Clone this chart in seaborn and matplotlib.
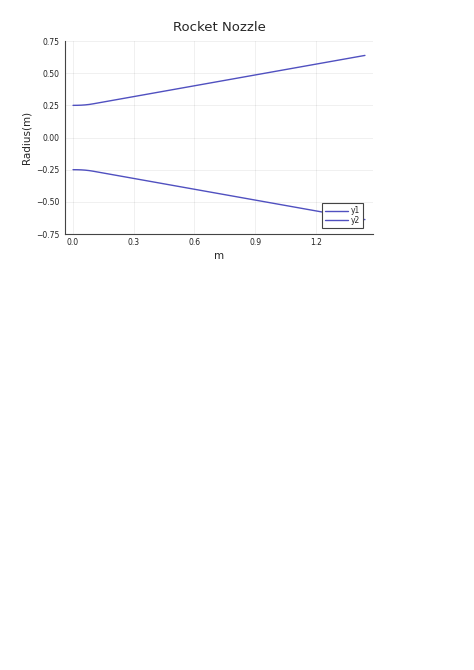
import numpy as np
import pandas as pd
import matplotlib
matplotlib.use('Agg')
import matplotlib.pyplot as plt
import seaborn as sns

# nozzle contour (axial position, radius)
x_pos = [0.0, 0.02, 0.04, 0.06, 0.08, 0.10, 0.3, 0.6, 0.9, 1.2, 1.443]
r_upper = [0.250, 0.2503, 0.2513, 0.2535, 0.257, 0.262, 0.318, 0.402, 0.486, 0.570, 0.638]
r_lower = [-0.250, -0.2503, -0.2513, -0.2535, -0.257, -0.262, -0.318, -0.402, -0.486, -0.570, -0.638]
series_names = ['y1', 'y2']
x_ticks = [0.0, 0.3, 0.6, 0.9, 1.2]
y_ticks = [-0.75, -0.50, -0.25, 0.00, 0.25, 0.50, 0.75]

df = pd.DataFrame({
    'x': x_pos + x_pos,
    'r': r_upper + r_lower,
    'series': [series_names[0]] * len(x_pos) + [series_names[1]] * len(x_pos),
})

sns.set_style('white')
plt.rcParams['font.family'] = ['DejaVu Sans']

fig = plt.figure(figsize=(4.74, 6.70), dpi=100)
ax = fig.add_axes([0.137, 0.6507, 0.650, 0.2881])

line_col = '#5050c0'
sns.lineplot(data=df, x='x', y='r', hue='series', palette=[line_col, line_col],
             sort=False, estimator=None, linewidth=1.0, ax=ax)

ax.set_xlim(-0.04, 1.483)
ax.set_ylim(-0.75, 0.75)
ax.set_xticks(x_ticks)
ax.set_xticklabels(['%.1f' % v for v in x_ticks])
ax.set_yticks(y_ticks)
ax.set_yticklabels(['%.2f' % v if v >= 0 else '\u2212%.2f' % -v for v in y_ticks])
ax.grid(True, color='#000000', alpha=0.07, linewidth=0.6)

for s in ['top', 'right']:
    ax.spines[s].set_visible(False)
for s in ['left', 'bottom']:
    ax.spines[s].set_color('#444444')
    ax.spines[s].set_linewidth(0.8)

ax.tick_params(axis='x', direction='in', length=2.5, width=0.6, labelsize=5.5, pad=3, colors='#222222')
ax.tick_params(axis='y', direction='out', length=2.0, width=0.6, labelsize=5.5, pad=2, colors='#222222')

ax.set_xlabel('m', fontsize=7.5, labelpad=3)
ax.set_ylabel('Radius(m)', fontsize=7.5, labelpad=3)
ax.set_title('Rocket Nozzle', fontsize=9.5, pad=7)

leg = ax.legend(loc='lower right', bbox_to_anchor=(0.968, 0.03), fontsize=5.5,
                frameon=True, fancybox=False, handlelength=3.0, handletextpad=0.3,
                borderpad=0.45, labelspacing=0.05, borderaxespad=0, framealpha=1)
leg.get_frame().set_edgecolor('#444444')
leg.get_frame().set_linewidth(0.8)

fig.savefig('out.png', dpi=100)
